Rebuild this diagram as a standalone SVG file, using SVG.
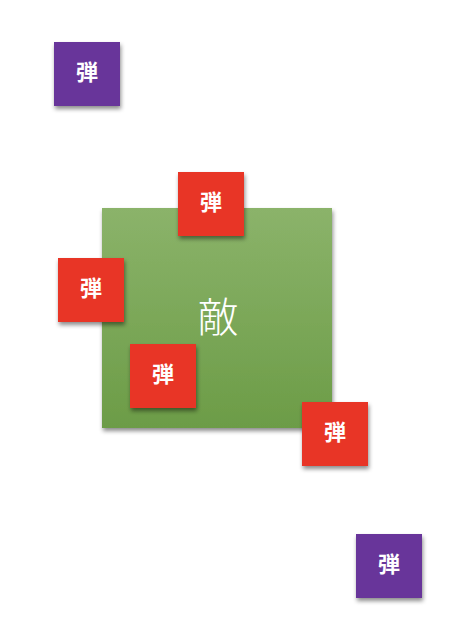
<svg xmlns="http://www.w3.org/2000/svg" width="450" height="644" viewBox="0 0 450 644">
<defs>
<linearGradient id="g" x1="0" y1="0" x2="0" y2="1">
<stop offset="0" stop-color="#8bb36a"/>
<stop offset="1" stop-color="#6c9c47"/>
</linearGradient>
<filter id="sh" x="-20%" y="-20%" width="150%" height="150%">
<feDropShadow dx="1" dy="3" stdDeviation="2" flood-color="#000" flood-opacity="0.45"/>
</filter>
</defs>
<style>
.bp{fill:#68349a;filter:url(#sh)}
.br{fill:#e83426;filter:url(#sh)}
.t{fill:#fff;font-family:"Noto Sans CJK JP","Noto Sans CJK SC",sans-serif;font-weight:bold;font-size:22px;text-anchor:middle;dominant-baseline:central}
.e{fill:#fff;font-family:"Noto Sans CJK JP","Noto Sans CJK SC",sans-serif;font-weight:300;font-size:41px;text-anchor:middle;dominant-baseline:central}
</style>
<rect width="450" height="644" fill="#fff"/>
<g id="enemy">
<rect x="102" y="208" width="230" height="220" fill="url(#g)" filter="url(#sh)"/>
<text class="e" x="218" y="314">敵</text>
</g>
<g id="bullet-purple-1">
<rect class="bp" x="54" y="42" width="66" height="64"/>
<text class="t" x="87" y="70">弾</text>
</g>
<g id="bullet-red-top">
<rect class="br" x="178" y="172" width="66" height="64"/>
<text class="t" x="211" y="200">弾</text>
</g>
<g id="bullet-red-left">
<rect class="br" x="58" y="258" width="66" height="64"/>
<text class="t" x="91" y="286">弾</text>
</g>
<g id="bullet-red-inside">
<rect class="br" x="130" y="344" width="66" height="64"/>
<text class="t" x="163" y="372">弾</text>
</g>
<g id="bullet-red-corner">
<rect class="br" x="302" y="402" width="66" height="64"/>
<text class="t" x="335" y="430">弾</text>
</g>
<g id="bullet-purple-2">
<rect class="bp" x="356" y="534" width="66" height="64"/>
<text class="t" x="389" y="562">弾</text>
</g>
<g id="connectors"></g>
</svg>
